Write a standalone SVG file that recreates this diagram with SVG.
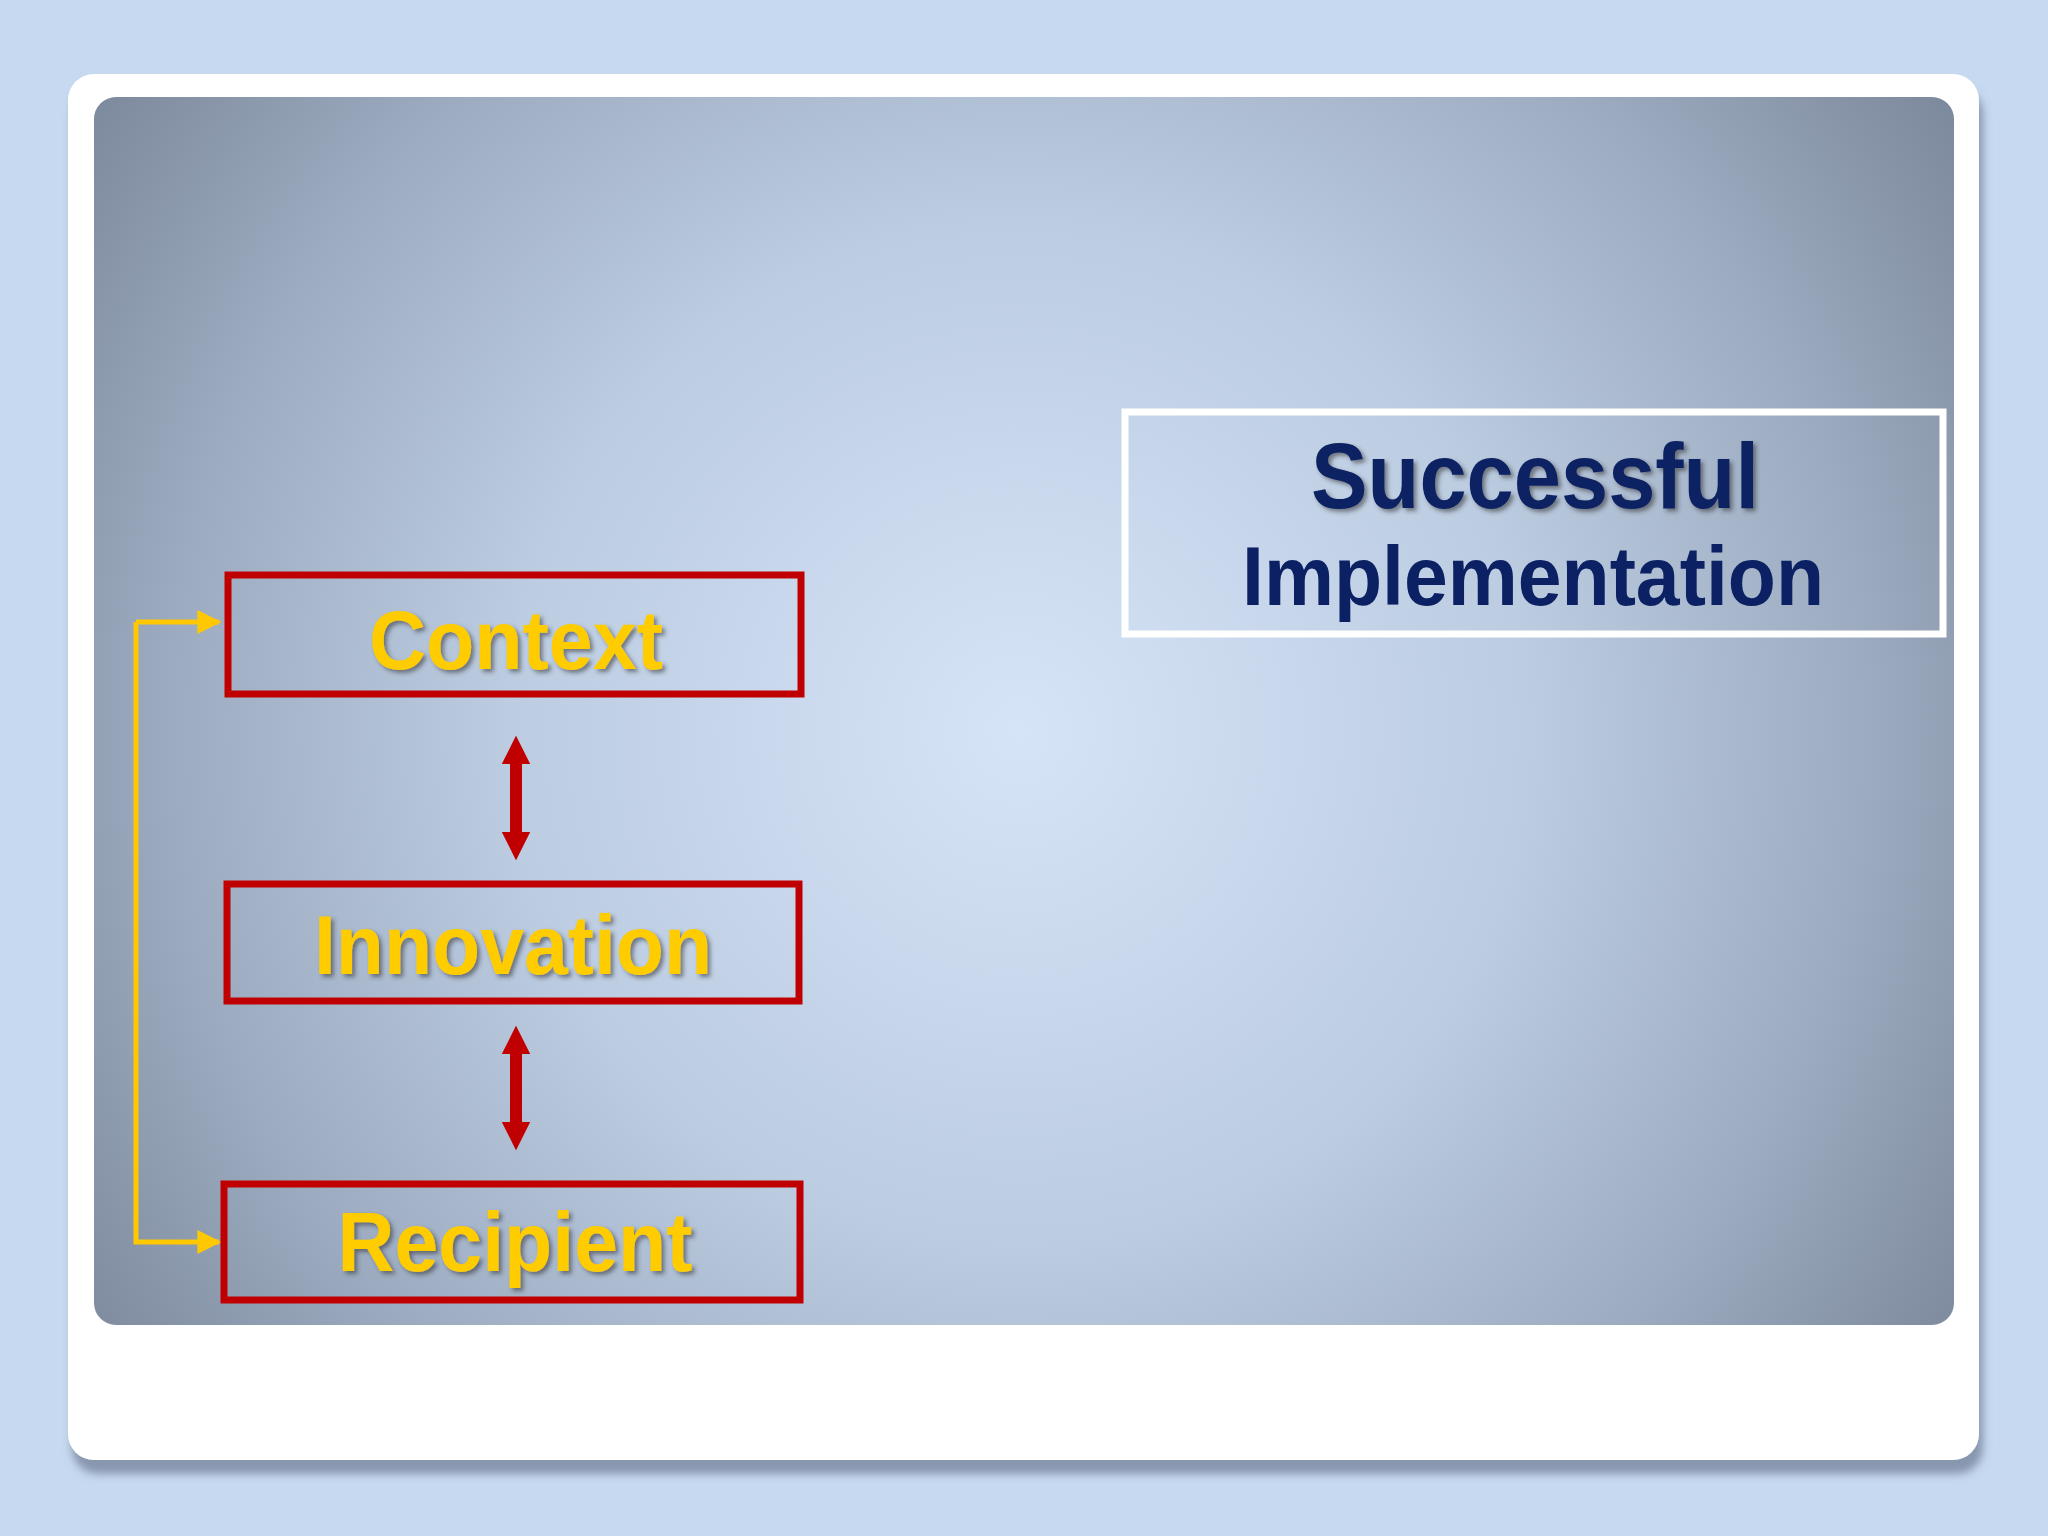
<svg xmlns="http://www.w3.org/2000/svg" width="2048" height="1536" viewBox="0 0 2048 1536">
<defs>
<radialGradient id="panelGrad" gradientUnits="userSpaceOnUse" cx="1019" cy="731" r="1130">
<stop offset="0" stop-color="#D6E4F7"/>
<stop offset="0.45" stop-color="#BCCCE1"/>
<stop offset="0.75" stop-color="#9CABC0"/>
<stop offset="1" stop-color="#7C889B"/>
</radialGradient>
<filter id="cardShadow" x="-5%" y="-5%" width="110%" height="110%">
<feGaussianBlur in="SourceAlpha" stdDeviation="4"/>
<feOffset dx="4" dy="14" result="b"/>
<feFlood flood-color="#7D8BA3" flood-opacity="0.85"/>
<feComposite in2="b" operator="in"/>
<feMerge><feMergeNode/><feMergeNode in="SourceGraphic"/></feMerge>
</filter>
<filter id="txtShadow" x="-10%" y="-20%" width="120%" height="140%">
<feDropShadow dx="3" dy="3" stdDeviation="2" flood-color="#333333" flood-opacity="0.55"/>
</filter>
<marker id="yHead" viewBox="0 0 10 10" refX="9" refY="5" markerWidth="4.8" markerHeight="4.8" orient="auto" markerUnits="strokeWidth">
<path d="M0,0 L10,5 L0,10 z" fill="#FFC800"/>
</marker>
<marker id="rHead" viewBox="0 0 10 10" refX="0.5" refY="5" markerWidth="2.4" markerHeight="2.6" orient="auto-start-reverse" markerUnits="strokeWidth">
<path d="M0,0 L10,5 L0,10 z" fill="#C00000"/>
</marker>
</defs>
<style>
.box{fill:none;stroke:#C00000;stroke-width:7}
.lbl{font-family:"Liberation Sans",Arial,sans-serif;font-weight:bold;font-size:84px;fill:#FFCC00;text-anchor:middle}
.navy{font-family:"Liberation Sans",Arial,sans-serif;font-weight:bold;fill:#0B2163;text-anchor:middle}
.ylink{fill:none;stroke:#FFC800;stroke-width:5}
.rlink{fill:none;stroke:#C00000;stroke-width:12}
</style>
<rect width="2048" height="1536" fill="#C6D9F0"/>
<rect x="68" y="74" width="1911" height="1386" rx="26" fill="#FFFFFF" filter="url(#cardShadow)"/>
<rect x="94" y="97" width="1860" height="1228" rx="22" fill="url(#panelGrad)"/>

<g id="connectors">
<path class="ylink" d="M136,622 V1242 H219" marker-end="url(#yHead)"/>
<path class="ylink" d="M136,622 H219" marker-end="url(#yHead)"/>
<line class="rlink" x1="516" y1="763" x2="516" y2="833" marker-start="url(#rHead)" marker-end="url(#rHead)"/>
<line class="rlink" x1="516" y1="1053" x2="516" y2="1123" marker-start="url(#rHead)" marker-end="url(#rHead)"/>
</g>

<g id="context">
<rect class="box" x="228" y="575" width="573" height="119"/>
<text class="lbl" x="516" y="669" textLength="294" lengthAdjust="spacingAndGlyphs" filter="url(#txtShadow)">Context</text>
</g>
<g id="innovation">
<rect class="box" x="227" y="884" width="572" height="117"/>
<text class="lbl" x="513" y="974" textLength="398" lengthAdjust="spacingAndGlyphs" filter="url(#txtShadow)">Innovation</text>
</g>
<g id="recipient">
<rect class="box" x="224" y="1184" width="576" height="116"/>
<text class="lbl" x="515" y="1271" textLength="355" lengthAdjust="spacingAndGlyphs" filter="url(#txtShadow)">Recipient</text>
</g>
<g id="successful-implementation">
<rect x="1125" y="412" width="818" height="222" fill="none" stroke="#FFFFFF" stroke-width="7"/>
<text class="navy" x="1535" y="508" font-size="93" textLength="448" lengthAdjust="spacingAndGlyphs" filter="url(#txtShadow)">Successful</text>
<text class="navy" x="1533" y="605" font-size="84" textLength="582" lengthAdjust="spacingAndGlyphs">Implementation</text>
</g>
</svg>
